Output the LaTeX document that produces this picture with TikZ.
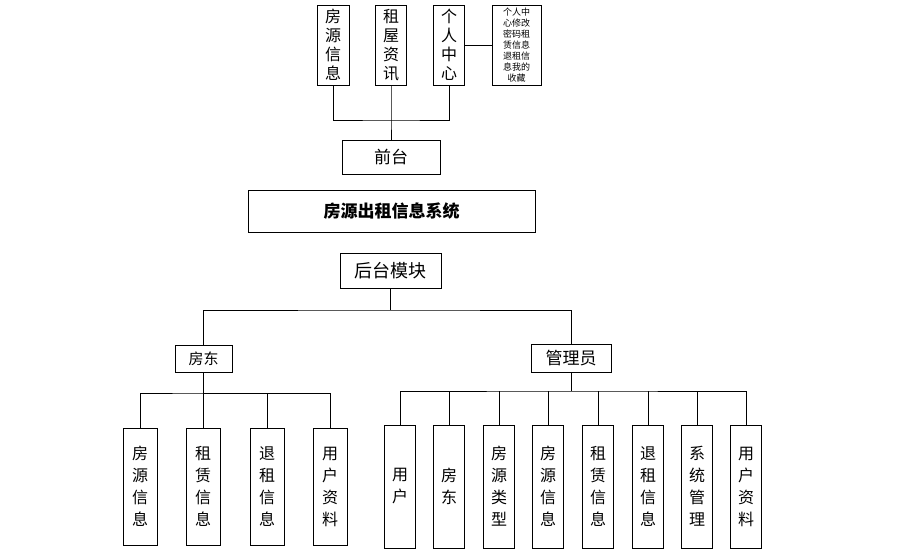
\documentclass[tikz,border=0pt]{standalone}
\usepackage{fontspec}
\setmainfont{Noto Sans CJK SC}
\begin{document}
\begin{tikzpicture}[x=1pt,y=-1pt,
 box/.style={draw,line width=0.8pt,inner sep=0pt,align=center},
 vbox/.style={box,minimum width=31pt,font=\fontsize{16}{22}\selectfont},
 ln/.style={line width=0.9pt}]
\useasboundingbox (0,0) rectangle (899,556);
% top
\node[vbox,minimum width=32pt,minimum height=80pt,font=\fontsize{16}{19}\selectfont] (t1) at (333,45) {房\\源\\信\\息};
\node[vbox,minimum width=31pt,minimum height=80pt,font=\fontsize{16}{19}\selectfont] (t2) at (391,45) {租\\屋\\资\\讯};
\node[vbox,minimum width=31pt,minimum height=80pt,font=\fontsize{16}{19}\selectfont] (t3) at (449,45) {个\\人\\中\\心};
\node[box,minimum width=49pt,minimum height=80pt,font=\fontsize{9}{11}\selectfont] (t4) at (516.5,45) {个人中\\心修改\\密码租\\赁信息\\退租信\\息我的\\收藏};
\draw[ln] (t3.east) -- (t4.west);
\node[box,minimum width=98pt,minimum height=34pt,font=\fontsize{17}{19}\selectfont] (qt) at (391,157) {前台};
\node[box,minimum width=287pt,minimum height=42pt,font=\bfseries\fontsize{17}{19}\selectfont] (sys) at (391.5,211) {房源出租信息系统};
\node[box,minimum width=101pt,minimum height=35pt,font=\fontsize{18}{20}\selectfont] (ht) at (390.5,270.5) {后台模块};
\coordinate (b1) at (391,120);
\draw[ln] (t1.south) |- (b1) -| (t3.south);
\draw[ln] (t2.south) -- (b1) -- (qt.north);
% back
\node[box,minimum width=57pt,minimum height=27pt,font=\fontsize{15}{17}\selectfont] (fd) at (203.5,358.5) {房东};
\node[box,minimum width=80pt,minimum height=28pt,font=\fontsize{17}{19}\selectfont] (gl) at (571,358) {管理员};
\coordinate (b2) at (390.5,310);
\draw[ln] (ht.south) -- (b2);
\draw[ln] (fd.north) |- (b2) -| (gl.north);
% landlord children
\foreach \n/\x/\t in {l1/140/房\\源\\信\\息, l2/203/租\\赁\\信\\息, l3/267/退\\租\\信\\息, l4/330/用\\户\\资\\料}{
 \node[vbox,minimum width=34pt,minimum height=117pt] (\n) at (\x,486.5) {\t};
}
\coordinate (b3) at (203.5,393);
\draw[ln] (fd.south) -- (b3);
\draw[ln] (l1.north) |- (b3) -| (l4.north);
\draw[ln] (l2.north) |- (b3);
\draw[ln] (l3.north) |- (b3);
% admin children
\foreach \n/\x/\t in {a1/400/用\\户, a2/449/房\\东, a3/499/房\\源\\类\\型, a4/548/房\\源\\信\\息, a5/598/租\\赁\\信\\息, a6/648/退\\租\\信\\息, a7/697/系\\统\\管\\理, a8/746/用\\户\\资\\料}{
 \node[vbox,minimum width=31pt,minimum height=123pt] (\n) at (\x,486.5) {\t};
}
\coordinate (b4) at (571,391);
\draw[ln] (gl.south) -- (b4);
\draw[ln] (a1.north) |- (b4) -| (a8.north);
\foreach \n in {a2,a3,a4,a5,a6,a7}{\draw[ln] (\n.north) -- (\n.north |- b4);}
\end{tikzpicture}
\end{document}
